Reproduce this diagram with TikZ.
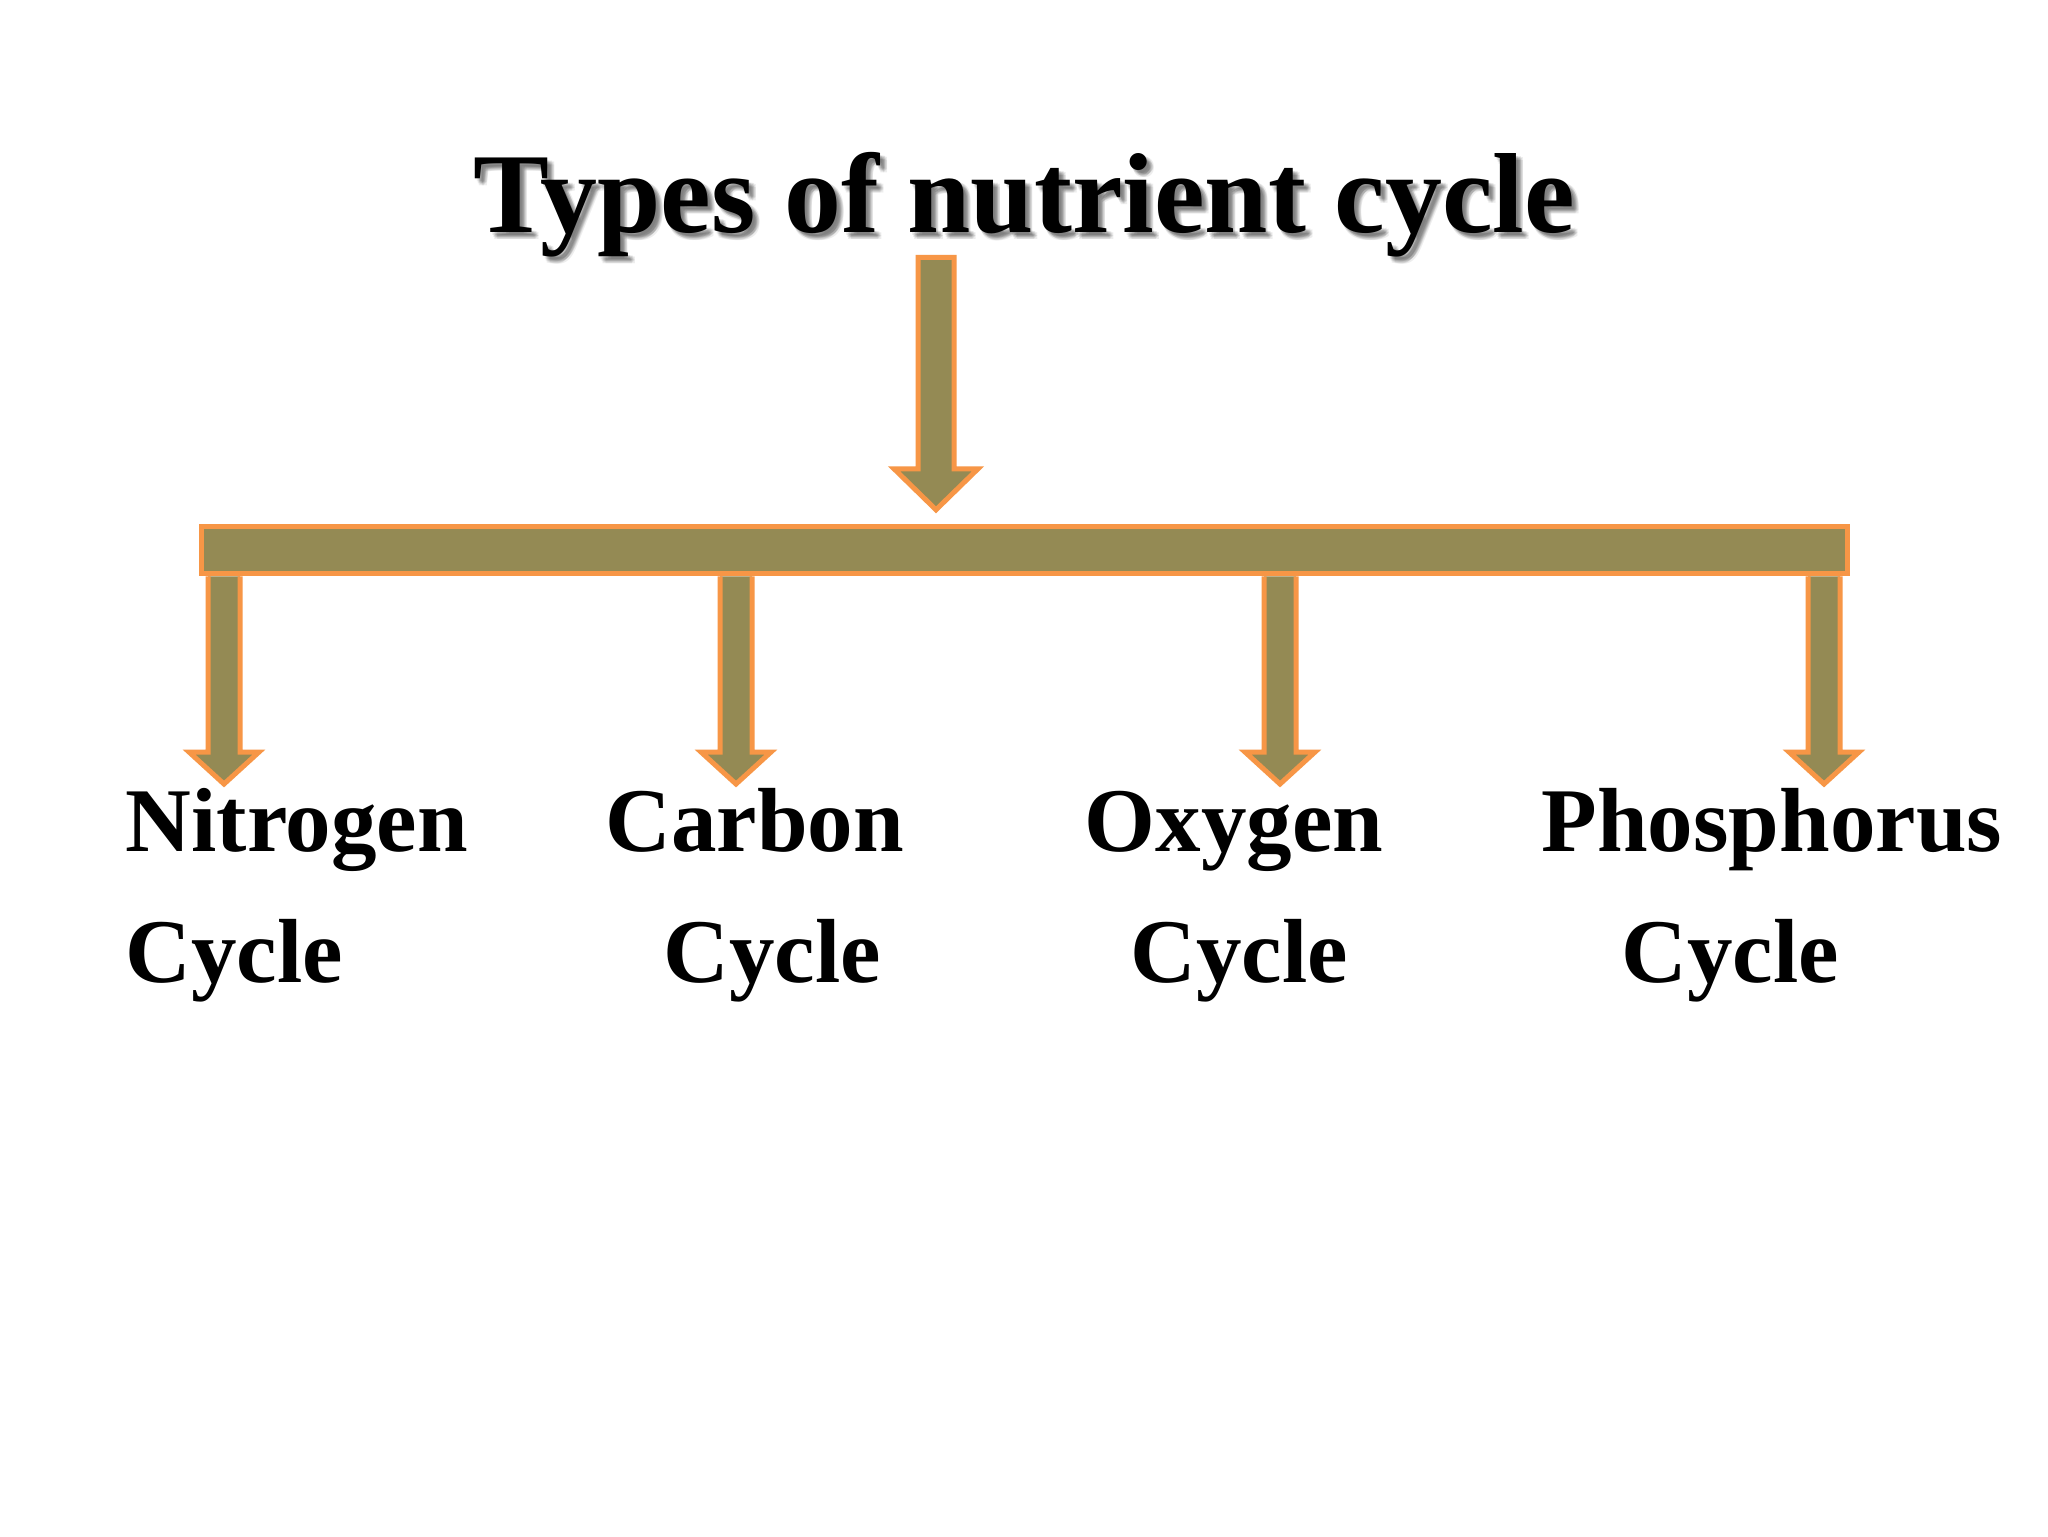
\documentclass[tikz,border=0pt]{standalone}
\usepackage{fontspec}
\setmainfont{Liberation Serif}
\usetikzlibrary{calc}
\definecolor{arrowfill}{HTML}{948A54}
\definecolor{arrowline}{HTML}{F79646}
\tikzset{
  blockarrow/.style={draw=arrowline,fill=arrowfill,line width=0.5mm,line join=miter},
  titletext/.style={anchor=base,inner sep=0,font=\fontsize{32.4}{38}\selectfont\bfseries},
  cyclelabel/.style={anchor=base west,inner sep=0,font=\fontsize{25.9}{30}\selectfont\bfseries},
}
\begin{document}
\begin{tikzpicture}[x=0.1mm,y=-0.1mm]
    \useasboundingbox[fill=white] (0,0) rectangle (2048,1536);
    \foreach \dx/\dy [count=\i] in {2/3,3/5,5/3,4/4,5/6,6/5,7/7,4/7,7/4} {
        \node [titletext,text=black,opacity=0.07] (shadow\i) at (1024+\dx,232+\dy) {Types of nutrient cycle}; % soft shadow
    }
    \node [titletext] (title) at (1024,232) {Types of nutrient cycle};
    \node [blockarrow,minimum width=164.6mm,minimum height=4.75mm,inner sep=0] (bar) at (1024.5,550) {};
    \coordinate (join) at ($(bar.north)+(-88.5,-14)$);
    \draw [blockarrow] ($(join |- title.south)+(-18,0)$) -- ($(join)+(-18,-41)$) -- ($(join)+(-42,-41)$) -- (join)
        -- ($(join)+(42,-41)$) -- ($(join)+(18,-41)$) -- ($(join |- title.south)+(18,0)$) -- cycle; % title to bar
    \foreach \x/\n/\nx/\cx [count=\i] in {224/Nitrogen/125/125,736/Carbon/605/663,1280/Oxygen/1084/1130,1824/Phosphorus/1541/1621} {
        \coordinate (tip\i) at (\x,784);
        \draw [blockarrow] ($(tip\i |- bar.south)+(-16,0)$) -- ($(tip\i)+(-16,-32)$) -- ($(tip\i)+(-35,-32)$) -- (tip\i)
            -- ($(tip\i)+(35,-32)$) -- ($(tip\i)+(16,-32)$) -- ($(tip\i |- bar.south)+(16,0)$); % bar to cycle
        \node [cyclelabel] (name\i) at (\nx,851) {\n};
        \node [cyclelabel] (cycle\i) at (\cx,982) {Cycle};
    }
\end{tikzpicture}
\end{document}
